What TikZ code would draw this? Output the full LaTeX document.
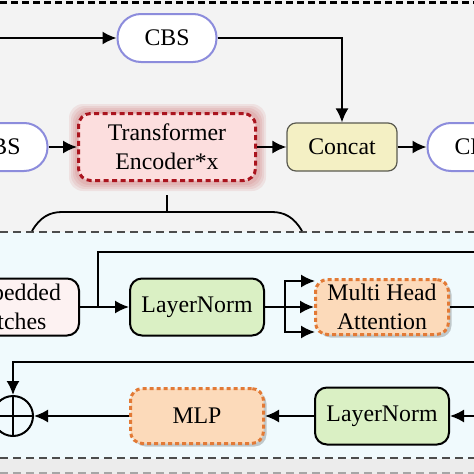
\documentclass[tikz,border=0pt]{standalone}
\usepackage{fontspec}
\setmainfont{Liberation Serif}
\usetikzlibrary{arrows.meta,shadows,calc}
\definecolor{cbsc}{RGB}{140,140,220}
\definecolor{trfill}{RGB}{252,222,222}
\definecolor{trdraw}{RGB}{170,20,30}
\definecolor{ccfill}{RGB}{244,240,196}
\definecolor{ccdraw}{RGB}{90,90,80}
\definecolor{grfill}{RGB}{218,240,196}
\definecolor{peach}{RGB}{252,218,186}
\definecolor{orng}{RGB}{226,122,54}
\definecolor{embfill}{RGB}{253,242,242}
\definecolor{bgtop}{RGB}{243,243,243}
\definecolor{bgbot}{RGB}{240,250,253}
\definecolor{bggray}{RGB}{236,236,236}
\begin{document}
\begin{tikzpicture}[x=1pt,y=-1pt,
 every node/.style={font=\fontsize{23.8}{29}\selectfont, align=center, inner sep=0pt},
 arr/.style={line width=1.8pt, -{Latex[length=14pt,width=13pt]}},
 lnk/.style={line width=1.8pt},
 cbs/.style={draw=cbsc, fill=white, line width=2pt, rounded corners=23.5pt, minimum width=99pt, minimum height=48pt},
 trans/.style={draw=trdraw, fill=trfill, line width=3pt, dash pattern=on 5pt off 3.5pt, rounded corners=12pt, minimum width=177pt, minimum height=67pt},
 concat/.style={draw=ccdraw, fill=ccfill, line width=1.2pt, rounded corners=9pt, minimum width=110pt, minimum height=48pt},
 embbox/.style={draw=black, fill=embfill, line width=2pt, rounded corners=12pt, minimum width=138pt, minimum height=57pt},
 green/.style={draw=black, fill=grfill, line width=2pt, rounded corners=12pt, minimum width=134pt, minimum height=57pt},
 orbox/.style={draw=orng, fill=peach, line width=3pt, dash pattern=on 4pt off 3pt, rounded corners=12pt, minimum width=133pt, minimum height=55pt,
   drop shadow={shadow xshift=3pt, shadow yshift=-3pt, opacity=0.2, fill=black}},
 addc/.style={draw=black, circle, line width=2pt, minimum size=40pt, fill=none}
]
\path[use as bounding box] (0,0) rectangle (474,474);
\clip (0,0) rectangle (474,474);
% backgrounds
\fill[bgtop] (0,0) rectangle (474,232);
\fill[bgbot] (0,232) rectangle (474,459);
\fill[bggray] (0,459) rectangle (474,474);
\draw[black, line width=3pt, dash pattern=on 7pt off 4pt] (0,2) -- (474,2);
\draw[black!70, line width=1.5pt, dash pattern=on 8pt off 5pt] (0,232) -- (474,232);
\draw[black!70, line width=1.5pt, dash pattern=on 8pt off 5pt] (0,458) -- (474,458);
\draw[black!35, line width=3pt, dash pattern=on 8pt off 5pt] (0,473) -- (474,473);
% glow behind transformer
\foreach \g in {9,7,5,3}{
  \fill[red!70!black, opacity=0.07, rounded corners=14pt] (78-\g,113-\g) rectangle (257+\g,182+\g);
}
% top part
\node[cbs] (cbs1) at (167,38) {CBS};
\node[cbs] (cbs0) at (-2,147) {CBS};
\node[cbs] (cbs2) at (477,147) {CBS};
\node[trans] (tr) at (167,147) {Transformer\\Encoder*x};
\node[concat] (cc) at (342,147) {Concat};
\coordinate (in0) at (0,38);
\draw[arr] (in0) -- (cbs1);
\draw[arr] (cbs1.east) -| (cc.north);
\draw[arr] (cbs0) -- (tr);
\draw[arr] (tr) -- (cc);
\draw[arr] (cc) -- (cbs2);
% brace
\coordinate (bt) at (167,195);
\coordinate (bm) at (167,212);
\coordinate (bl) at (32,231);
\coordinate (br) at (302,231);
\draw[lnk] (bt) -- (bm);
\draw[lnk] (bl) .. controls (40,217) and (50,212) .. (62,212) -- (272,212) .. controls (284,212) and (294,217) .. (br);
% bottom part
\node[embbox] (emb) at (10,307) {Embedded\\Patches};
\node[green] (ln1) at (197,307) {LayerNorm};
\node[orbox] (mha) at (382,307) {Multi Head\\Attention};
\node[addc] (add) at (13,416) {};
\draw[lnk] (add.north) -- (add.south) (add.west) -- (add.east);
\node[orbox] (mlp) at (197,416) {MLP};
\node[green] (ln2) at (382,416) {LayerNorm};
\coordinate (split) at (98,307);
\coordinate (topr) at (474,252);
\coordinate (fork) at (285,307);
\coordinate (mhaout) at (474,307);
\coordinate (resr) at (474,362);
\coordinate (ln2in) at (474,416);
\draw[arr] (emb) -- (ln1);
\draw[lnk] (split) |- (topr);
\draw[lnk] (ln1.east) -- (fork);
\draw[arr] (fork) |- ($(mha.west)+(1,-26)$);
\draw[arr] (fork) -- (mha.west);
\draw[arr] (fork) |- ($(mha.west)+(1,25)$);
\draw[lnk] (mha.east) -- (mhaout);
\draw[arr] (resr) -| (add.north);
\draw[arr] (mlp) -- (add);
\draw[arr] (ln2) -- (mlp);
\draw[arr] (ln2in) -- (ln2);
\end{tikzpicture}
\end{document}
